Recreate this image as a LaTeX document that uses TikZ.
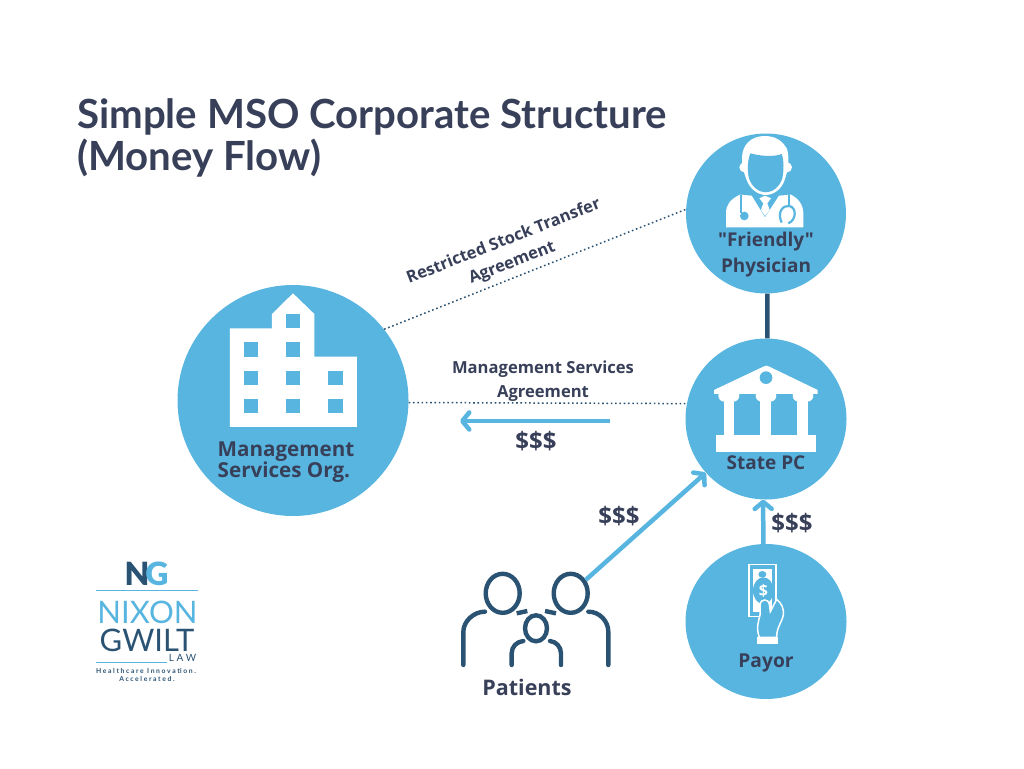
\documentclass[tikz,border=0pt]{standalone}
\usepackage{fontspec}
\usetikzlibrary{arrows.meta,shapes.geometric}
\setmainfont{Open Sans}
\newfontfamily\quotefont{Open Sans}
\newfontfamily\titlefont{Lato}
\newfontfamily\logofont{Lato}
\newfontfamily\logomarkfont{Lato Black}
\definecolor{skyblue}{HTML}{58B5E0}
\definecolor{inkblue}{HTML}{384059}
\definecolor{iconblue}{HTML}{2A5273}
\tikzset{
  bubble/.style={circle, fill=skyblue, inner sep=0pt, minimum size=#1},
  tag/.style 2 args={text=inkblue, font=\bfseries\fontsize{#1}{#2}\selectfont, align=center, inner sep=0pt},
  flow/.style={draw=skyblue, line width=4.5pt, -{Straight Barb[length=7pt,width=17pt,round]}},
  deal/.style={draw=iconblue, dash pattern=on 1.6pt off 2.7pt, line width=1.5pt},
  figure/.style={draw=iconblue, line width=4.4pt, line cap=round},
  zoomed/.style={x=.3333pt, y=-.3333pt}
}
\begin{document}
\begin{tikzpicture}[x=1pt,y=-1pt]
\useasboundingbox (0,0) rectangle (1024,768);
\node[anchor=west, inner sep=0pt, text=inkblue, font=\titlefont\bfseries\fontsize{40.2}{42}\selectfont] (title1) at (77,117){Simple MSO Corporate Structure};
\node[anchor=west, inner sep=0pt, text=inkblue, font=\titlefont\bfseries\fontsize{40.2}{42}\selectfont] (title2) at (77,158){(Money Flow)};
\node[bubble=231pt] (mso) at (293,400.5){};
\node[bubble=160pt] (physician) at (766,213.5){};
\node[bubble=161pt] (pc) at (766,419){};
\node[ellipse, fill=skyblue, inner sep=0pt, minimum width=161pt, minimum height=155pt] (payor) at (766,621.5){};
\node[ellipse, figure, minimum width=34pt, minimum height=39pt, inner sep=0pt] (adultL) at (502.7,593.3){};
\node[ellipse, figure, minimum width=34pt, minimum height=39pt, inner sep=0pt] (adultR) at (570.7,593.3){};
\node[ellipse, figure, minimum width=22pt, minimum height=26pt, inner sep=0pt] (child) at (536,628.3){};
\coordinate (feesstart) at (610,421);
\coordinate (feesend) at (460,421);
\draw[deal](mso.38.5) -- (physician.177);
\draw[deal](mso.-1.75) -- (pc.169.3);
\draw[draw=iconblue, line width=4.4pt](physician.-89) -- (pc.89);
\draw[flow](feesstart) -- (feesend);
\draw[flow](adultR) -- (pc);
\draw[flow](payor.92) -- (pc.268);
\node[tag={16.5}{23}, rotate=21.5] (stocklabel) at (508,252.5){Restricted Stock Transfer\\Agreement};
\node[tag={16.6}{24}] (msalabel) at (543,381){Management Services\\Agreement};
\node[tag={24}{24}] (feeslabel) at (536,441.5){\$\$\$};
\node[tag={24}{24}] (patientfee) at (619,516.5){\$\$\$};
\node[tag={24}{24}] (payorfee) at (792,523.5){\$\$\$};
\node[tag={20.6}{21}, align=left] (msolabel) at (286,462){Management\\Services Org.};
\node[tag={19}{26}] (physicianlabel) at (766,254.5){{\quotefont "Friendly"}\\Physician};
\node[tag={19}{19}] (pclabel) at (766,463){State PC};
\node[tag={19.2}{19}] (payorlabel) at (766,663){Payor};
\node[tag={21.5}{21}] (patientslabel) at (527,687){Patients};
% building
\begin{scope}[shift={(175,285)},zoomed]
\fill[white] (165,130) -- (291,130) -- (291,87) -- (354,25) -- (418,87) -- (418,215) -- (546,215) -- (546,426) -- (165,426) -- cycle;
\fill[skyblue] (333,87) rectangle (376,130);
\fill[skyblue] (206,172) rectangle (249,215);
\fill[skyblue] (333,172) rectangle (376,215);
\fill[skyblue] (206,257) rectangle (249,300);
\fill[skyblue] (333,257) rectangle (376,300);
\fill[skyblue] (460,257) rectangle (503,300);
\fill[skyblue] (206,342) rectangle (249,385);
\fill[skyblue] (333,342) rectangle (376,385);
\fill[skyblue] (460,342) rectangle (503,385);
\end{scope}
% doctor
\begin{scope}[shift={(680,130)},zoomed]
\fill[white] (193,112) circle (15);
\fill[white] (321,112) circle (15);
\fill[white] (200,150) .. controls (210,178) and (235,195) .. (257,195) .. controls (280,195) and (305,178) .. (314,150) .. controls (328,110) and (328,75) .. (320,55) .. controls (300,20) and (270,18) .. (250,18) .. controls (212,20) and (186,45) .. (186,85) .. controls (186,110) and (192,130) .. (200,150) -- cycle;
\fill[skyblue] (207,145) .. controls (216,172) and (238,187) .. (257,187) .. controls (277,187) and (298,172) .. (307,145) .. controls (312,120) and (312,90) .. (305,72) .. controls (280,82) and (240,78) .. (211,70) .. controls (203,90) and (201,120) .. (207,145) -- cycle;
\fill[white] (180,194) .. controls (150,208) and (138,225) .. (138,250) -- (138,292) -- (370,292) -- (370,250) .. controls (370,225) and (355,205) .. (333,194) -- (297,197) -- (255,262) -- (215,197) -- cycle;
\fill[white] (238,205) -- (255,197) -- (273,205) -- (262,220) -- (269,240) -- (255,258) -- (243,240) -- (250,220) -- cycle;
\draw[skyblue, line width=2pt] (182,195) -- (182,250);
\fill[skyblue] (193,258) circle (13);
\draw[skyblue, line width=2.2pt] (328,195) -- (328,228);
\draw[skyblue, line width=2.2pt] (305,278) .. controls (290,245) and (310,225) .. (328,228) .. controls (350,232) and (350,270) .. (325,280);
\end{scope}
% bank
\begin{scope}[shift={(680,335)},zoomed]
\fill[white] (102,165) -- (250,95) .. controls (256,91) and (262,91) .. (268,95) -- (413,165) -- (413,177) -- (102,177) -- cycle;
\fill[skyblue] (258,128) circle (19);
\fill[white, rounded corners=6pt] (115,165) rectangle (178,200);
\fill[white, rounded corners=6pt] (227,165) rectangle (289,200);
\fill[white, rounded corners=6pt] (338,165) rectangle (400,200);
\fill[white] (132,190) rectangle (163,305);
\fill[white] (241,190) rectangle (273,305);
\fill[white] (352,190) rectangle (384,305);
\fill[white] (108,300) rectangle (407,352);
\end{scope}
% banknote and hand
\begin{scope}[shift={(680,540)},zoomed]
\draw[white, line width=1.6pt] (207,74) rectangle (288,229);
\fill[white] (220,88) rectangle (275,215);
\fill[skyblue] (247,103) ellipse (12 and 10);
\fill[skyblue] (250,152) ellipse (31 and 40);
\node[text=white, font=\bfseries\fontsize{16}{16}\selectfont, inner sep=0pt] (dollarsign) at (250,152){\$};
\filldraw[draw=white, fill=skyblue, line width=1.5pt] (238,292) .. controls (228,265) and (235,245) .. (240,225) -- (240,192) .. controls (242,176) and (266,176) .. (268,192) -- (271,215) -- (290,178) .. controls (305,190) and (312,205) .. (310,225) .. controls (305,250) and (290,260) .. (290,292) -- cycle;
\fill[white] (230,292) rectangle (294,312);
\end{scope}
% people
\begin{scope}[shift={(450,560)},zoomed]
\draw[figure] (40,315) -- (40,215) .. controls (40,185) and (70,155) .. (105,155);
\draw[figure] (475,315) -- (475,215) .. controls (475,185) and (450,155) .. (415,155);
\draw[figure, line cap=butt] (200,160) -- (232,153);
\draw[figure, line cap=butt] (285,153) -- (318,160);
\draw[figure] (185,315) -- (185,280) .. controls (185,260) and (200,245) .. (220,243);
\draw[figure] (333,315) -- (333,280) .. controls (333,260) and (318,245) .. (300,243);
\end{scope}
% logo
\draw[skyblue, line width=.7pt] (96,590) -- (198,590);
\draw[skyblue, line width=.7pt] (96,662) -- (167,662);
\node[inner sep=0pt, font=\logomarkfont\fontsize{32}{32}\selectfont] (logomark) at (146.5,574){\textcolor{iconblue}{N}\kern-4pt\textcolor{skyblue}{G}};
\node[inner sep=0pt, text=skyblue, font=\logofont\fontsize{31}{31}\selectfont] (logonixon) at (147.5,612){NIXON};
\node[inner sep=0pt, text=iconblue, font=\logofont\fontsize{31}{31}\selectfont] (logogwilt) at (147,640){GWILT};
\node[inner sep=0pt, text=iconblue, font=\logofont\fontsize{10}{10}\selectfont] (logolaw) at (182.5,658){L\kern2.5pt A\kern2.5pt W};
\node[inner sep=0pt, text=iconblue, font=\titlefont\bfseries\fontsize{6.8}{6.8}\selectfont] (logotag) at (146,670.5){\addfontfeatures{LetterSpace=24}Healthcare Innovation.};
\node[inner sep=0pt, text=iconblue, font=\titlefont\bfseries\fontsize{6.8}{6.8}\selectfont] (logotag2) at (147,679){\addfontfeatures{LetterSpace=24}Accelerated.};
\end{tikzpicture}
\end{document}
